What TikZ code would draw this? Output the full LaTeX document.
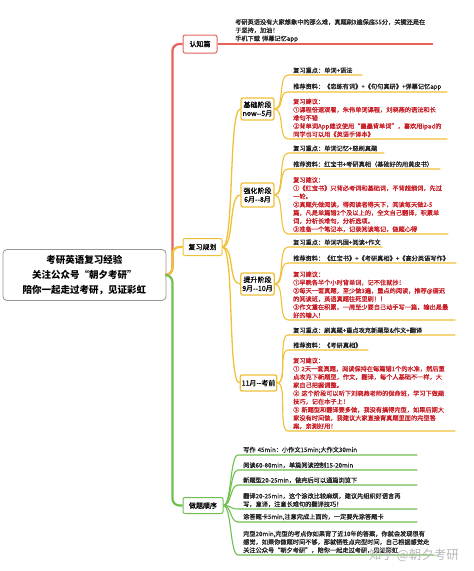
\documentclass[tikz,border=0pt]{standalone}
\usepackage{fontspec}
\setmainfont{Noto Sans CJK SC}
\newfontfamily\leaffont{Noto Sans CJK SC}[FakeBold=0.8]
\usetikzlibrary{positioning}
\definecolor{branchred}{RGB}{232,98,92}
\definecolor{branchyellow}{RGB}{240,192,56}
\definecolor{branchgreen}{RGB}{112,192,80}
\definecolor{advicered}{RGB}{200,28,36}
\definecolor{leafgray}{RGB}{35,35,35}
\definecolor{rootgray}{RGB}{150,150,150}

\begin{document}
\begin{tikzpicture}[x=1pt, y=-1pt,
    rootbox/.style={draw=rootgray, line width=0.8pt, rounded corners=4pt, fill=white,
      align=center, font=\fontsize{9.5}{15}\selectfont\bfseries,
      minimum width=163pt, minimum height=51pt},
    topicbox/.style={draw=#1, line width=1pt, rounded corners=2pt, fill=white,
      align=center, font=\leaffont\fontsize{7}{8.6}\selectfont, inner sep=1.5pt},
    stagebox/.style={topicbox=branchyellow, line width=1.3pt},
    leaf/.style={anchor=south west, align=left, inner xsep=5pt, inner ysep=1.6pt,
      text=leafgray, font=\leaffont\fontsize{6.2}{8.2}\selectfont},
    advice/.style={leaf, text=advicered},
    trunk/.style={draw=#1, line width=2.2pt, rounded corners=7pt},
    twig/.style={draw=#1, line width=1.1pt}]
    \useasboundingbox (0,0) rectangle (474,571);

    % centre and main branches
    \node[rootbox] (root) at (84.5,275) {考研英语复习经验\\关注公众号“朝夕考研”\\陪你一起走过考研，见证彩虹};
    \node[topicbox=branchred,    minimum width=34pt, minimum height=18pt] (renzhi) at (200,44)    {认知篇};
    \node[topicbox=branchyellow, minimum width=39pt, minimum height=17pt] (guihua) at (202.5,247) {复习规划};
    \node[topicbox=branchgreen,  minimum width=40pt, minimum height=16pt] (shunxu) at (203,505.5) {做题顺序};

    \draw[trunk=branchred]    (root.east) -- ++(6,0) |- (renzhi.west);
    \draw[trunk=branchyellow] (root.east) -- ++(6,0) |- (guihua.west);
    \draw[trunk=branchgreen]  (root.east) -- ++(6,0) |- (shunxu.west);

    % 认知篇
    \node[leaf, text width=193pt] (rz) at (230,44) {考研英语没有大家想象中的那么难，真题刷3遍保底55分，关键还是在\\于坚持，加油！\\手机下载 弹幕记忆app};
    \draw[twig=branchred] (renzhi.east) -- (rz.south west) -- (rz.south east);

    % 复习规划: stages
    \node[stagebox, minimum width=33pt, minimum height=22pt] (jichu)   at (257.5,109) {基础阶段\\now-{}-5月};
    \node[stagebox, minimum width=33pt, minimum height=24pt] (qianghua) at (257.5,195) {强化阶段\\6月-{}-8月};
    \node[stagebox, minimum width=33pt, minimum height=22pt] (tisheng) at (257.5,284) {提升阶段\\9月-{}-10月};
    \node[stagebox, minimum width=35pt, minimum height=16pt] (kaoqian) at (258.5,383) {11月-{}-考前};

    \foreach \s in {jichu, qianghua, tisheng, kaoqian}
      \draw[twig=branchyellow, line width=1.3pt] (guihua.east) .. controls +(12,0) and +(-12,0) .. (\s.west);

    % 基础阶段
    \node[leaf, text width=64pt]   (jichuA) at (288,75)  {复习重点：单词+语法};
    \node[leaf, text width=149pt]  (jichuB) at (288,92)  {推荐资料：《恋练有词》+《句句真研》+弹幕记忆app};
    \node[advice, text width=149pt] (jichuC) at (288,139) {复习建议：\\①课程倍速观看，朱伟单词课程，刘晓燕的语法和长\\难句不错\\②背单词App建议使用“墨墨背单词”，喜欢用ipad的\\同学也可以用《英语手译本》};

    % 强化阶段
    \node[leaf, text width=86pt]   (qianghuaA) at (288,153) {复习重点：单词记忆+怒刷真题};
    \node[leaf, text width=142pt]  (qianghuaB) at (288,169) {推荐资料：红宝书+考研真相（基础好的用黄皮书）};
    \node[advice, text width=150pt] (qianghuaC) at (288,234) {复习建议：\\①《红宝书》只背必考词和基础词，不背超纲词，先过\\一轮。\\②真题先做阅读，得阅读者得天下，阅读每天做2-5\\篇，凡是单篇错2个及以上的，全文自己翻译，积累单\\词，分析长难句，分析选项。\\③准备一个笔记本，记录阅读笔记，做题心得};

    % 提升阶段
    \node[leaf, text width=84pt]   (tishengA) at (288,247) {复习重点：单词巩固+阅读+作文};
    \node[leaf, text width=158pt]  (tishengB) at (288,263) {推荐资料：《红宝书》+《考研真相》+《高分英语写作》};
    \node[advice, text width=157pt] (tishengC) at (288,320) {复习建议：\\①早晚各半个小时背单词，记不住就抄！\\②每天一套真题，至少做3遍，重点的阅读，推荐@唐迟\\的阅读班，英语真题往死里刷！！\\③作文重在积累，一周至少要自己动手写一篇，输出是最\\好的输入！};

    % 11月--考前
    \node[leaf, text width=157pt]  (kaoqianA) at (288,335) {复习重点：刷真题+重点攻克新题型\&作文+翻译};
    \node[leaf, text width=70pt]   (kaoqianB) at (288,350) {推荐资料：《考研真相》};
    \node[advice, text width=157pt] (kaoqianC) at (288,431) {复习建议：\\① 2天一套真题，阅读保持在每篇错1个的水准，然后重\\点攻克下新题型，作文，翻译，每个人基础不一样，大\\家自己把握调整。\\② 这个阶段可以听下刘晓燕老师的保命班，学习下做题\\技巧，记在本子上！\\③ 新题型和翻译要多做，我没有搞得完型，如果后期大\\家没有时间做，我建议大家直接背真题里面的完型答\\案，亲测好用！};

    \foreach \s in {jichu, qianghua, tisheng, kaoqian}
      \foreach \l in {A, B, C}
        \draw[twig=branchyellow] (\s.east) .. controls +(10,0) and +(-10,0) .. (\s\l.south west) -- (\s\l.south east);

    % 做题顺序
    \node[leaf, text width=169pt] (xiezuo) at (238,455) {写作 45min：小作文15min;大作文30min};
    \node[leaf, text width=169pt] (yuedu)  at (238,470) {阅读60-80min，单篇阅读控制15-20min};
    \node[leaf, text width=169pt] (xinti)  at (238,485) {新题型20-25min，做完后可以通篇浏览下};
    \node[leaf, text width=169pt] (fanyi)  at (238,509) {翻译20-25min，这个涂改比较麻烦，建议先组织好语言再\\写，意译，注意长难句的翻译技巧！};
    \node[leaf, text width=169pt] (tuka)   at (238,522) {涂答题卡5min,注意完成上面的，一定要先涂答题卡};
    \node[leaf, text width=186pt] (wanxing) at (238,555) {完型20min,完型的考点你如果背了近10年的答案，你就会发现很有\\感觉，如果你做题时间不够，那就牺牲点完型时间，自己根据感觉走\\关注公众号“朝夕考研”，陪你一起走过考研，见证彩虹};

    \foreach \l in {xiezuo, yuedu, xinti, fanyi, tuka, wanxing}
      \draw[twig=branchgreen] (shunxu.east) .. controls +(8,0) and +(-8,0) .. (\l.south west) -- (\l.south east);

    \node[text=black!28, font=\fontsize{12.5}{14}\selectfont] (zhihu) at (414,555) {知乎 @朝夕考研};
\end{tikzpicture}
\end{document}
